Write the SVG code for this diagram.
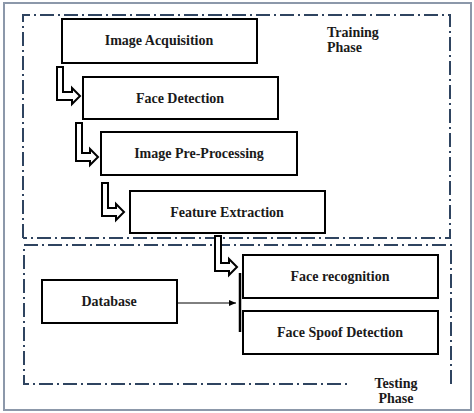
<svg xmlns="http://www.w3.org/2000/svg" width="474" height="413" viewBox="0 0 474 413">
<defs>
<style>
.box{fill:#fff;stroke:#000;stroke-width:2}
.lbl{font-family:"Liberation Serif","DejaVu Serif",serif;font-weight:bold;font-size:14px;fill:#1a1a1a;text-anchor:middle}
.phase{font-family:"Liberation Serif","DejaVu Serif",serif;font-weight:bold;font-size:14px;fill:#1a1a1a}
.dd{fill:none;stroke:#2f4460;stroke-width:2;stroke-dasharray:14 4 2 4}
.harrow{fill:#fff;stroke:#000;stroke-width:2;stroke-linejoin:miter}
</style>
<marker id="ah" markerWidth="8" markerHeight="8" refX="7" refY="4" orient="auto" markerUnits="userSpaceOnUse">
<path d="M0,1 L7,4 L0,7 Z" fill="#000"/>
</marker>
</defs>
<rect x="0" y="0" width="474" height="413" fill="#fff"/>
<rect x="4" y="3" width="467" height="407" fill="none" stroke="#8c98aa" stroke-width="2"/>
<g id="training-phase">
<path class="dd" d="M23 238 V15 H450 V238 H23"/>
<text class="phase" x="327" y="37">Training</text>
<text class="phase" x="327" y="52">Phase</text>
</g>
<g id="testing-phase">
<path class="dd" d="M451 384 V245 H24 V384 H350"/>
<text class="lbl" x="396" y="388">Testing</text>
<text class="lbl" x="396" y="403">Phase</text>
</g>
<g id="image-acquisition">
<rect class="box" x="62" y="19" width="195" height="44"/>
<text class="lbl" x="159" y="45">Image Acquisition</text>
</g>
<g id="face-detection">
<rect class="box" x="83" y="77" width="195" height="42"/>
<text class="lbl" x="180" y="103">Face Detection</text>
</g>
<g id="image-preprocessing">
<rect class="box" x="101" y="132" width="196" height="43"/>
<text class="lbl" x="199" y="158">Image Pre-Processing</text>
</g>
<g id="feature-extraction">
<rect class="box" x="130" y="191" width="195" height="42"/>
<text class="lbl" x="227" y="217">Feature Extraction</text>
</g>
<g id="face-recognition">
<rect class="box" x="243" y="255" width="195" height="43"/>
<text class="lbl" x="340" y="281">Face recognition</text>
</g>
<g id="face-spoof-detection">
<rect class="box" x="243" y="311" width="195" height="43"/>
<text class="lbl" x="340" y="337">Face Spoof Detection</text>
</g>
<g id="database">
<rect class="box" x="42" y="280" width="135" height="43"/>
<text class="lbl" x="109" y="306">Database</text>
</g>
<g id="connectors">
<path class="harrow" d="M57 67 H63 V92 H72 V88 L80 96 L72 104 V100 H57 Z"/>
<path class="harrow" d="M76 123 H82 V153 H90 V149 L98 157 L90 165 V161 H76 Z"/>
<path class="harrow" d="M102 183 H108 V208 H116 V204 L124 212 L116 220 V216 H102 Z"/>
<path class="harrow" d="M215 236 H221 V263 H229 V259 L237 267 L229 275 V271 H215 Z"/>
<line x1="240" y1="273" x2="240" y2="332" stroke="#000" stroke-width="2.5"/>
<line x1="177" y1="303" x2="236" y2="303" stroke="#000" stroke-width="1" marker-end="url(#ah)"/>
</g>
</svg>
